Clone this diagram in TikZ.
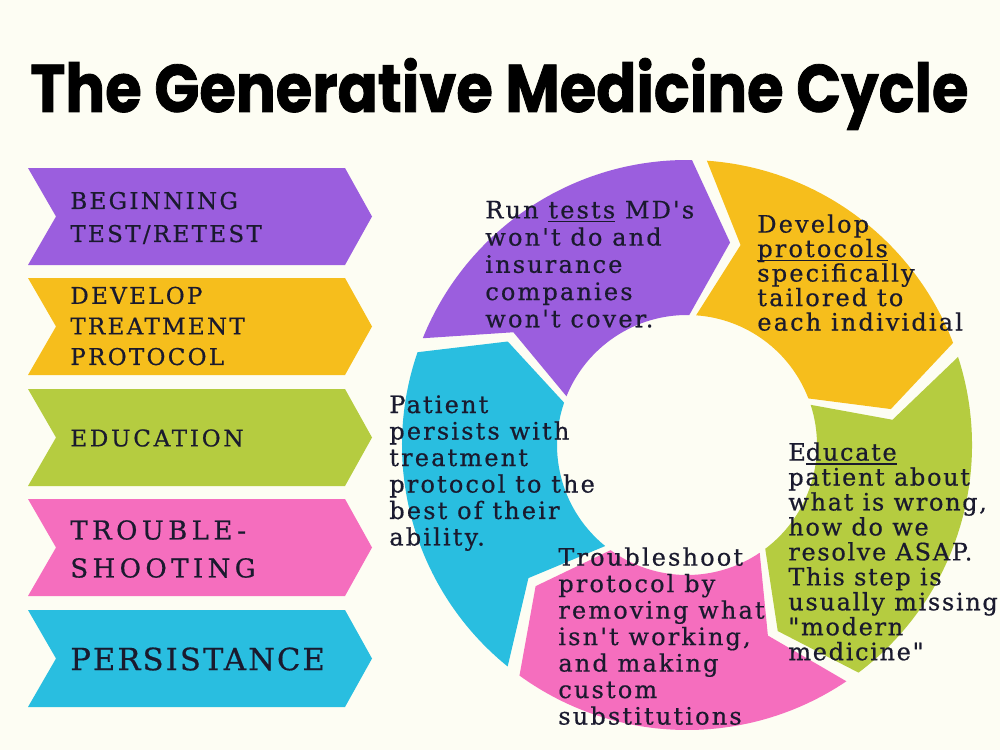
\documentclass[tikz,border=0pt]{standalone}
\usepackage{fontspec}
\usepackage{graphicx}
\setmainfont{DejaVu Serif}
\newfontfamily\titlefont{Poppins}[FakeBold=1.2]
\newfontfamily\slabfont{DejaVu Serif}[LetterSpace=9, FakeBold=0.6]
\newfontfamily\chevfont{DejaVu Serif}[LetterSpace=10, FakeBold=0.6]

\definecolor{bgcream}{RGB}{253,253,243}
\definecolor{cpurple}{RGB}{155,94,222}
\definecolor{cyellow}{RGB}{246,190,28}
\definecolor{cgreen}{RGB}{181,204,64}
\definecolor{cpink}{RGB}{245,110,190}
\definecolor{ccyan}{RGB}{41,190,224}
\definecolor{inkdark}{RGB}{26,26,46}

% underline that keeps the line depth small
\newcommand{\lowline}[1]{\setbox0\hbox{#1}\rlap{\rule[-0.17em]{\wd0}{0.06em}}\box0\relax}

\begin{document}
\begin{tikzpicture}[x=0.02cm, y=-0.02cm,
  chevtext/.style={anchor=west, inner sep=0, align=left, text=inkdark,
    font=\chevfont\fontsize{13.1}{18.8}\selectfont},
  ringtext/.style={anchor=north west, inner sep=0, align=left, text=inkdark,
    font=\slabfont\fontsize{13.66}{#1}\selectfont}]

\useasboundingbox (0,0) rectangle (1000,750);
\fill[bgcream] (0,0) rectangle (1000,750);

\node[anchor=base west, inner sep=0] (title) at (30,112)
  {\resizebox{18.76cm}{1.08cm}{\titlefont\bfseries The Generative Medicine Cycle}};

% left chevrons
\foreach \col/\yt in {cpurple/168, cyellow/278, cgreen/389, cpink/499, ccyan/610}
  \fill[\col] (28,\yt) -- (345,\yt) -- (372,\yt+48.5) -- (345,\yt+97)
    -- (28,\yt+97) -- (56,\yt+48.5) -- cycle;

\node[chevtext] (begin) at (70,218) {BEGINNING\\TEST/RETEST};
\node[chevtext, font=\chevfont\fontsize{13.1}{17.4}\selectfont] (develop) at (70,326)
  {DEVELOP\\TREATMENT\\PROTOCOL};
\node[chevtext, font=\chevfont\addfontfeatures{LetterSpace=12}\fontsize{13.1}{18}\selectfont] (education) at (70,438) {EDUCATION};
\node[chevtext, font=\chevfont\addfontfeatures{LetterSpace=17}\fontsize{14.8}{21.6}\selectfont] (trouble) at (70,549)
  {TROUBLE-\\SHOOTING};
\node[chevtext, font=\chevfont\addfontfeatures{LetterSpace=7}\fontsize{17.4}{20}\selectfont] (persist) at (70,659)
  {PERSISTANCE};

% the cycle
\begin{scope}[shift={(687,445)}, yscale=-1]
  \def\rout{285} \def\rin{130} \def\rmid{207}
  \foreach \col/\ta/\ha in {cpurple/158/89, cyellow/86/21, cgreen/18/-53, cpink/-56/-126, ccyan/-129/-199}
    \fill[\col] (\ta:\rout) arc[start angle=\ta, end angle=\ha, radius=\rout]
      -- (\ha-11:\rmid) -- (\ha:\rin) arc[start angle=\ha, end angle=\ta, radius=\rin]
      -- (\ta-11:\rmid) -- cycle;
\end{scope}

\node[ringtext=15.5] (tests) at (485,200.5)
  {Run \lowline{tests} MD's\\won't do and\\insurance\\companies\\won't cover.};
\node[ringtext=13.94] (protocols) at (757,214)
  {Develop\\\lowline{protocols}\\specifically\\tailored to\\each individial};
\node[ringtext=14.2, font=\slabfont\addfontfeatures{LetterSpace=7}\fontsize{13.66}{14.2}\selectfont] (educate) at (788,442)
  {E\lowline{ducate}\\patient about\\what is wrong,\\how do we\\resolve ASAP.\\This step is\\usually missing\\"modern\\medicine"};
\node[ringtext=15.08] (persists) at (389,395)
  {Patient\\persists with\\treatment\\protocol to the\\best of their\\ability.};
\node[ringtext=15.08] (troubleshoot) at (558,547)
  {Troubleshoot\\protocol by\\removing what\\isn't working,\\and making\\custom\\substitutions};

\end{tikzpicture}
\end{document}
